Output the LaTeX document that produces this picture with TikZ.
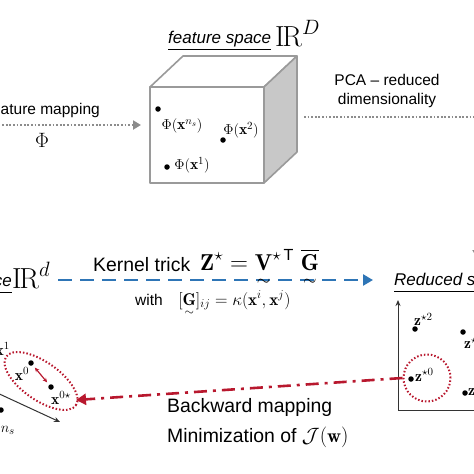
\documentclass[tikz,border=0pt]{standalone}
\usepackage{amsmath}
\usepackage{fontspec}
\setsansfont{Liberation Sans}
\usetikzlibrary{arrows.meta,shapes.geometric}
\definecolor{grayline}{HTML}{8C8C8C}
\definecolor{cubeedge}{HTML}{9A9A9A}
\definecolor{cubeside}{HTML}{C8C8C8}
\definecolor{kblue}{HTML}{2E75B6}
\definecolor{kred}{HTML}{B8182E}
\newcommand{\IRset}{\mathrm{I\kern-0.08em R}}
\newcommand{\utl}[1]{\underset{\sim}{#1}}
\begin{document}
\begin{tikzpicture}[x=1pt,y=-1pt,
  sans/.style={font=\fontsize{15.5}{19}\selectfont\sffamily},
  bigsans/.style={font=\fontsize{19.4}{23}\selectfont\sffamily},
  title/.style={font=\fontsize{17}{20}\selectfont\sffamily\itshape},
  spacesym/.style={font=\fontsize{29}{32}\selectfont, anchor=base west, inner sep=0pt},
  dotpt/.style={circle,fill=black,inner sep=0pt,minimum size=5.5pt},
  lab/.style={font=\fontsize{15.5}{18}\selectfont, inner sep=1pt},
  cube/.style={draw=cubeedge,line width=1.6pt,line join=round},
  grayarrow/.style={draw=grayline,line width=2pt,dash pattern=on 1.8pt off 1.8pt,-{Triangle[length=8pt,width=9pt]}},
  bluearrow/.style={draw=kblue,line width=2.6pt,dash pattern=on 14pt off 8pt,-{Triangle[length=10pt,width=11pt]}},
  redarrow/.style={draw=kred,line width=2.6pt,dash pattern=on 13pt off 6pt on 3pt off 6pt,-{Triangle[length=10pt,width=11pt]}},
  reddot/.style={draw=kred,line width=2pt,dash pattern=on 1.5pt off 2pt},
  axis/.style={draw=black!80,line width=1pt,-{Stealth[length=6pt,width=5pt]}},
]
\useasboundingbox (0,0) rectangle (474,474);
\clip (0,0) rectangle (474,474);

% ---------- top: feature space ----------
\node[title, anchor=base west, inner sep=0pt] (fs) at (168,43) {\underline{feature space}};
\node[spacesym] (RD) at (275,46) {$\IRset^{D}$};

\coordinate (f1) at (150,87);
\coordinate (f2) at (264,87);
\coordinate (f3) at (264,183);
\coordinate (f4) at (150,183);
\coordinate (b1) at (183,56);
\coordinate (b2) at (297,56);
\coordinate (b3) at (297,152);
\draw[cube, fill=white] (f1) -- (b1) -- (b2) -- (f2) -- cycle;
\draw[cube, fill=cubeside] (f2) -- (b2) -- (b3) -- (f3) -- cycle;
\draw[cube, fill=white] (f1) rectangle (f3);

\node[dotpt] (p1) at (158,109) {};
\node[lab] (l1) at (182,126) {$\Phi(\mathbf{x}^{n_s})$};
\node[dotpt] (p2) at (223,140) {};
\node[lab] (l2) at (241,130) {$\Phi(\mathbf{x}^{2})$};
\node[dotpt] (p3) at (167,167) {};
\node[lab] (l3) at (192,165) {$\Phi(\mathbf{x}^{1})$};

% feature mapping
\coordinate (fmS) at (-5,125);
\coordinate (fmE) at (141,125);
\draw[grayarrow] (fmS) -- (fmE);
\node[sans, anchor=base east, inner sep=0pt] (fmt) at (100,114) {feature mapping};
\node[font=\fontsize{22}{24}\selectfont] (phi) at (42,140) {$\Phi$};

% PCA
\node[sans, align=center] (pca) at (387,91) {PCA -- reduced\\dimensionality};
\coordinate (pcaS) at (304,117);
\coordinate (pcaC) at (477,117);
\coordinate (pcaE) at (477,258);
\draw[grayarrow] (pcaS) -- (pcaC) -- (pcaE);

% ---------- bottom left: input space ----------
\node[title, anchor=base east, inner sep=0pt] (is) at (12,286) {\underline{space}};
\node[spacesym] (Rd) at (12,288) {$\IRset^{d}$};

\coordinate (kS) at (58,280);
\coordinate (kE) at (373,280);
\draw[bluearrow] (kS) -- (kE);
\node[bigsans, anchor=base west, inner sep=0pt] (kt) at (93,271) {Kernel trick};
\node[font=\fontsize{23}{26}\selectfont, anchor=base west, inner sep=0pt] (ZV) at (200,270)
  {$\mathbf{Z}^{\star} = \utl{\mathbf{V}}^{\star\,\mathsf{T}}\;\overline{\utl{\mathbf{G}}}$};
\node[sans, anchor=base west, inner sep=0pt] (with) at (135,305)
  {with\quad\fontsize{17}{20}\selectfont$[\utl{\mathbf{G}}]_{ij} = \kappa(\mathbf{x}^i,\mathbf{x}^j)$};

% left cluster
\node[ellipse, reddot, minimum width=85pt, minimum height=38pt, rotate=-35] (el) at (41,381) {};
\node[dotpt] (x0) at (31,363) {};
\node[lab] (x0l) at (22,374) {$\mathbf{x}^{0}$};
\node[dotpt] (x0s) at (51,387) {};
\node[lab] (x0sl) at (61,398) {$\mathbf{x}^{0\star}$};
\draw[draw=kred, line width=1.2pt, {Stealth[length=4.5pt,width=4pt]}-{Stealth[length=4.5pt,width=4pt]}, shorten <=3pt, shorten >=3pt] (x0) -- (x0s);
\node[lab, anchor=east] (x1l) at (11,349) {$\mathbf{x}^{1}$};
\coordinate (baS) at (-20,385);
\coordinate (baE) at (60,422);
\draw[axis] (baS) -- (baE);
\node[dotpt] (xn) at (1,410) {};
\node[lab, anchor=base east] (xnl) at (16,432) {$n_s$};

% ---------- bottom right: reduced space ----------
\node[title, anchor=base west, inner sep=0pt] (rs) at (394,285) {\underline{Reduced space}};
\coordinate (ax0) at (398,410);
\coordinate (axT) at (398,300);
\coordinate (axR) at (480,410);
\draw[axis] (axR) -- (ax0) -- (axT);

\node[dotpt] (z2) at (415,329) {};
\node[lab, anchor=south west, inner sep=0pt] (z2l) at (414,326) {$\mathbf{z}^{\star 2}$};
\node[dotpt] (z1) at (463,332) {};
\node[lab, anchor=north west, inner sep=0pt] (z1l) at (464,336) {$\mathbf{z}^{\star 1}$};
\node[dotpt] (z0) at (411,379) {};
\node[lab, anchor=west, inner sep=0pt] (z0l) at (415,375) {$\mathbf{z}^{\star 0}$};
\node[dotpt] (zn) at (465,393) {};
\node[lab, anchor=west, inner sep=0pt] (znl) at (468,390) {$\mathbf{z}^{\star n_s}$};
\node[circle, reddot, minimum size=47pt] (zc) at (427,378) {};

\coordinate (bmE) at (76,400);
\draw[redarrow] (zc.west) -- (bmE);
\node[bigsans, anchor=west, inner sep=0pt] (bm) at (167,407) {Backward mapping};
\node[bigsans, anchor=west, inner sep=0pt] (mz) at (167,437) {Minimization of $\mathcal{J}(\mathbf{w})$};
\end{tikzpicture}
\end{document}
